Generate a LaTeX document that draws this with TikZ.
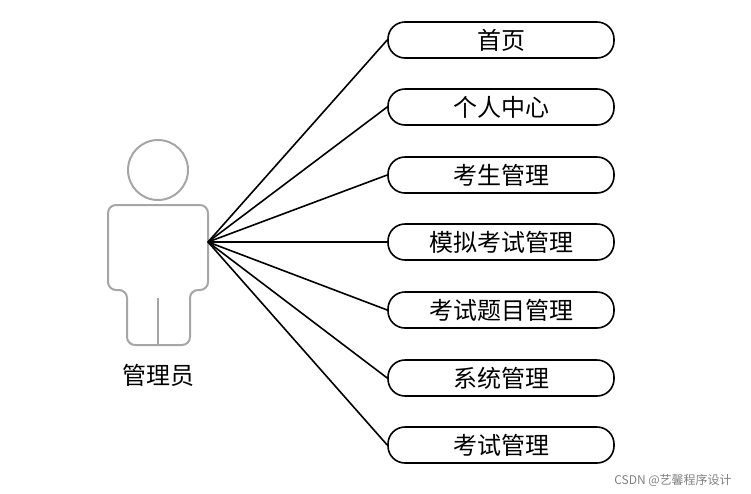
\documentclass[tikz,border=0pt]{standalone}
\usepackage{fontspec}
\newfontfamily\cjk{Noto Sans CJK SC}
\begin{document}
\begin{tikzpicture}[x=1pt,y=-1pt,
  pill/.style={draw,line width=1.6pt,rounded corners=17pt,minimum width=226pt,minimum height=36pt,inner sep=0pt,font=\cjk\fontsize{24}{26}\selectfont},
  link/.style={line width=1.6pt}]
\useasboundingbox (0,0) rectangle (751,493);
\draw[gray!70,line width=2pt] (158,170) circle (30);
\draw[gray!70,line width=2pt,rounded corners=8pt] (108,290) -- (108,205) -- (208,205) -- (208,290) -- (190,290) -- (190,345) -- (127,345) -- (127,290) -- cycle;
\draw[gray!70,line width=2pt] (158,298) -- (158,345);
\coordinate (a) at (208,242);
\node[font=\cjk\fontsize{24}{26}\selectfont] (lbl) at (158,375) {管理员};
\foreach \t/\y/\n in {首页/40/p1,个人中心/107/p2,考生管理/175/p3,模拟考试管理/242/p4,考试题目管理/310/p5,系统管理/378/p6,考试管理/445/p7}{
  \node[pill] (\n) at (501,\y) {\t};
  \draw[link] (a) -- (\n.west);
}
\node[font=\cjk\fontsize{12}{13}\selectfont,text=gray] (wm) at (673,480) {CSDN @艺馨程序设计};
\end{tikzpicture}
\end{document}
